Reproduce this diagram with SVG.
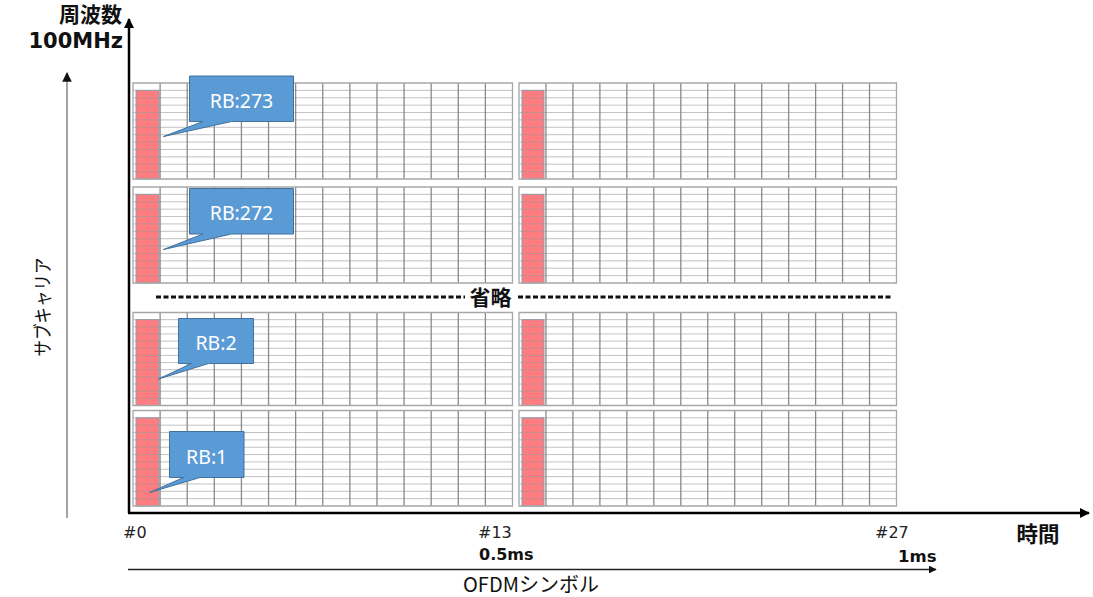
<svg xmlns="http://www.w3.org/2000/svg" xmlns:xlink="http://www.w3.org/1999/xlink" width="1093" height="597" viewBox="0 0 1093 597">
<style>
.red{fill:#ff7c80;stroke:#8e9bb3;stroke-width:1;vector-effect:non-scaling-stroke}
.hl{fill:none;stroke:#9a9a9a;stroke-opacity:0.6;stroke-width:1;vector-effect:non-scaling-stroke}
.vl{fill:none;stroke:#8a8a8a;stroke-width:1.3;vector-effect:non-scaling-stroke}
.bd{fill:none;stroke:#a6a6a6;stroke-width:1.3;vector-effect:non-scaling-stroke}
.call{fill:#5b9bd5;stroke:#41719c;stroke-width:1}
.ct{font-family:"Noto Sans","DejaVu Sans",sans-serif;font-size:19.5px;fill:#ffffff;text-anchor:middle}
.lbl{font-family:"DejaVu Sans","Noto Sans CJK JP",sans-serif;font-size:16px;fill:#222}
.b{font-weight:bold;fill:#111}
.jp{font-family:"Noto Sans CJK JP","Noto Sans",sans-serif;fill:#111}
.axis{stroke:#000;stroke-width:2.5;fill:none}
.thin{stroke:#222;stroke-width:1.3;fill:none}
.gthin{stroke:#8c8c8c;stroke-width:1.6;fill:none}
</style>
<defs>
<marker id="ah" viewBox="0 0 10 10" refX="9" refY="5" markerWidth="4" markerHeight="4" orient="auto" markerUnits="strokeWidth">
<path d="M0,0L10,5L0,10Z" fill="#000"/>
</marker>
<marker id="ahs" viewBox="0 0 10 10" refX="9" refY="5" markerWidth="6" markerHeight="6" orient="auto" markerUnits="strokeWidth">
<path d="M0,0L10,5L0,10Z" fill="#111"/>
</marker>
<g id="blk">
<rect class="red" x="3" y="7.38" width="23" height="88.62"/>
<rect class="red" x="389" y="7.38" width="22" height="88.62"/>
<path class="hl" d="M0,7.38H379.5M386,7.38H763.5M0,14.77H379.5M386,14.77H763.5M0,22.15H379.5M386,22.15H763.5M0,29.54H379.5M386,29.54H763.5M0,36.92H379.5M386,36.92H763.5M0,44.31H379.5M386,44.31H763.5M0,51.69H379.5M386,51.69H763.5M0,59.08H379.5M386,59.08H763.5M0,66.46H379.5M386,66.46H763.5M0,73.85H379.5M386,73.85H763.5M0,81.23H379.5M386,81.23H763.5M0,88.62H379.5M386,88.62H763.5"/>
<path class="vl" d="M27.11,0V96M54.21,0V96M81.32,0V96M108.43,0V96M135.54,0V96M162.64,0V96M189.75,0V96M216.86,0V96M243.96,0V96M271.07,0V96M298.18,0V96M325.29,0V96M352.39,0V96M412.96,0V96M439.93,0V96M466.89,0V96M493.86,0V96M520.82,0V96M547.79,0V96M574.75,0V96M601.71,0V96M628.68,0V96M655.64,0V96M682.61,0V96M709.57,0V96M736.54,0V96"/>
<rect class="bd" x="0" y="0" width="379.5" height="96"/>
<rect class="bd" x="386" y="0" width="377.5" height="96"/>
</g>
</defs>
<rect width="1093" height="597" fill="#ffffff"/>

<g id="block-rb273"><use xlink:href="#blk" href="#blk" transform="translate(133,83)"/></g>
<g id="block-rb272"><use xlink:href="#blk" href="#blk" transform="translate(133,187)"/></g>
<g id="block-rb2"><use xlink:href="#blk" href="#blk" transform="translate(133,312.5) scale(1,0.96875)"/></g>
<g id="block-rb1"><use xlink:href="#blk" href="#blk" transform="translate(133,410.5) scale(1,0.99479)"/></g>

<g id="connectors">
<line class="axis" x1="129" y1="513" x2="129" y2="19" marker-end="url(#ah)"/>
<line class="axis" x1="128" y1="513" x2="1089" y2="513" marker-end="url(#ah)"/>
<line class="gthin" x1="67" y1="518" x2="67" y2="73" marker-end="url(#ahs)"/>
<line class="thin" x1="128" y1="569.5" x2="936" y2="569.5" marker-end="url(#ahs)"/>
<path d="M156,297H465M518,297H893" stroke="#111" stroke-width="2.8" stroke-dasharray="5 2.5" fill="none"/>
</g>

<g id="callout-rb273">
<path class="call" d="M189.5,76H293.5V121.5H231.5L163.5,136.5L203,121.5H189.5Z"/>
<text class="ct" x="241.5" y="107.5">RB:273</text>
</g>
<g id="callout-rb272">
<path class="call" d="M189.5,188.5H293.5V234H231.5L163.5,249.5L203,234H189.5Z"/>
<text class="ct" x="241.5" y="220">RB:272</text>
</g>
<g id="callout-rb2">
<path class="call" d="M178.5,318.5H253.5V363.5H208.5L158.5,379L191.5,363.5H178.5Z"/>
<text class="ct" x="216" y="350">RB:2</text>
</g>
<g id="callout-rb1">
<path class="call" d="M169.5,431.5H244V477.5H200L149.5,492.5L183.5,477.5H169.5Z"/>
<text class="ct" x="206.7" y="463.5">RB:1</text>
</g>

<g id="labels">
<text class="jp b" x="122" y="22" style="font-size:21px" text-anchor="end">周波数</text>
<text class="lbl b" x="123" y="48" style="font-size:21px" text-anchor="end">100MHz</text>
<text class="jp" style="font-size:19px" transform="translate(50,307) rotate(-90)" text-anchor="middle" textLength="99" lengthAdjust="spacingAndGlyphs">サブキャリア</text>
<text class="jp b" x="490.5" y="305" style="font-size:21px" text-anchor="middle">省略</text>
<text class="lbl" x="123" y="537.5">#0</text>
<text class="lbl" x="478" y="537.5">#13</text>
<text class="lbl b" x="479" y="559.5">0.5ms</text>
<text class="lbl" x="875" y="537.5">#27</text>
<text class="lbl b" x="936.5" y="561.5" style="font-size:16.5px" text-anchor="end">1ms</text>
<text class="jp b" x="1016.5" y="542" style="font-size:21.5px">時間</text>
<text class="jp" x="463" y="592" style="font-size:20px">OFDMシンボル</text>
</g>
</svg>
